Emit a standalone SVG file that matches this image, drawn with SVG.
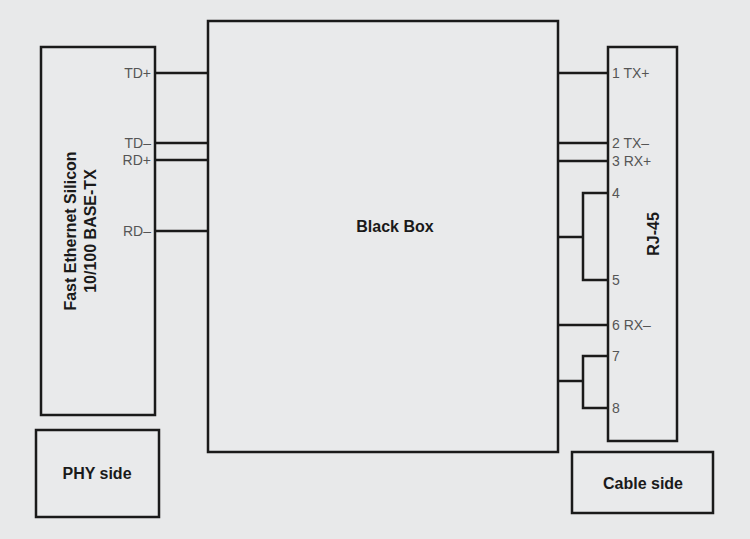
<svg xmlns="http://www.w3.org/2000/svg" width="750" height="539" viewBox="0 0 750 539">
<style>
.b{fill:#e9eaeb;stroke:#1a1a1a;stroke-width:2.5}
.w{fill:none;stroke:#1a1a1a;stroke-width:2.5}
.p{font-family:"Liberation Sans",Arial,sans-serif;font-size:14px;fill:#555}
.t{font-family:"Liberation Sans",Arial,sans-serif;font-size:16px;font-weight:bold;fill:#1a1a1a}
</style>
<rect width="750" height="539" fill="#e8e9ea"/>
<g id="phy"><rect class="b" x="41" y="47" width="114" height="368"/>
<text class="t" transform="translate(76,231) rotate(-90)" text-anchor="middle">Fast Ethernet Silicon</text>
<text class="t" transform="translate(96,231) rotate(-90)" text-anchor="middle">10/100 BASE-TX</text>
<text class="p" x="151" y="78" text-anchor="end">TD+</text>
<text class="p" x="151" y="148" text-anchor="end">TD–</text>
<text class="p" x="151" y="165" text-anchor="end">RD+</text>
<text class="p" x="151" y="236" text-anchor="end">RD–</text></g>
<g id="blackbox"><rect class="b" x="208" y="21" width="350" height="431"/>
<text class="t" x="395" y="232" text-anchor="middle">Black Box</text></g>
<g id="rj45"><rect class="b" x="608" y="47" width="69" height="394"/>
<text class="t" transform="translate(659,234) rotate(-90)" text-anchor="middle">RJ-45</text>
<text class="p" x="612" y="78">1 TX+</text>
<text class="p" x="612" y="148">2 TX–</text>
<text class="p" x="612" y="166">3 RX+</text>
<text class="p" x="612" y="198">4</text>
<text class="p" x="612" y="285">5</text>
<text class="p" x="612" y="330">6 RX–</text>
<text class="p" x="612" y="361">7</text>
<text class="p" x="612" y="413">8</text></g>
<g id="physide"><rect class="b" x="36" y="430" width="123" height="87"/>
<text class="t" x="97" y="479" text-anchor="middle">PHY side</text></g>
<g id="cableside"><rect class="b" x="572" y="452" width="141" height="61"/>
<text class="t" x="643" y="489" text-anchor="middle">Cable side</text></g>
<g id="connectors">
<line class="w" x1="155" y1="73" x2="208" y2="73"/>
<line class="w" x1="155" y1="143" x2="208" y2="143"/>
<line class="w" x1="155" y1="160" x2="208" y2="160"/>
<line class="w" x1="155" y1="231" x2="208" y2="231"/>
<line class="w" x1="558" y1="73" x2="608" y2="73"/>
<line class="w" x1="558" y1="143" x2="608" y2="143"/>
<line class="w" x1="558" y1="161" x2="608" y2="161"/>
<polyline class="w" points="608,193 583,193 583,280 608,280"/>
<line class="w" x1="558" y1="237" x2="583" y2="237"/>
<line class="w" x1="558" y1="325" x2="608" y2="325"/>
<polyline class="w" points="608,356 583,356 583,408 608,408"/>
<line class="w" x1="558" y1="381" x2="583" y2="381"/>
</g>
</svg>
